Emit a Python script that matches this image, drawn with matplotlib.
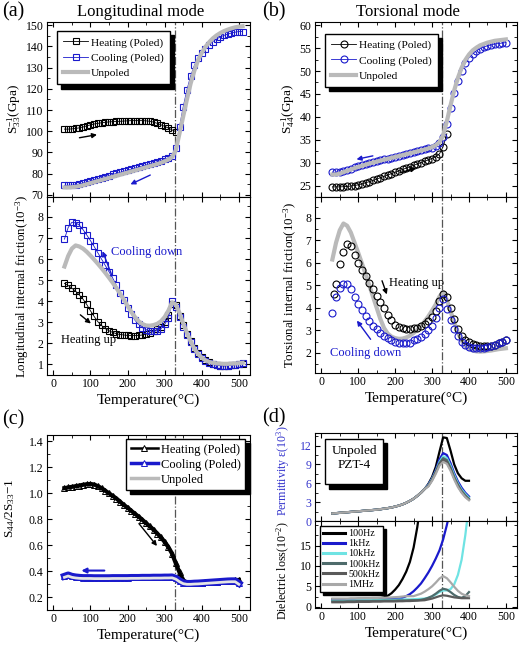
import numpy as np
import matplotlib
matplotlib.use('Agg')
import matplotlib.pyplot as plt
from matplotlib.ticker import MultipleLocator
from matplotlib.lines import Line2D

plt.rcParams['font.family'] = ['Liberation Serif', 'DejaVu Serif']
plt.rcParams['mathtext.fontset'] = 'custom'
plt.rcParams['mathtext.rm'] = 'Liberation Serif'
plt.rcParams['mathtext.it'] = 'Liberation Serif:italic'
plt.rcParams['axes.linewidth'] = 0.8

BLUE = '#1a1acc'
GRAY = '#bababa'
TC = 328  # Curie temperature line

# ---------------- data (a) Longitudinal mode ----------------
t_a_heat = np.arange(30, 340, 10)
s33_heat = [101.0, 101.0, 101.1, 101.3, 101.6, 102.0, 102.5, 103.0, 103.4, 103.7,
            104.0, 104.2, 104.4, 104.5, 104.6, 104.7, 104.8, 104.9, 105.0, 105.0,
            105.0, 105.0, 104.9, 104.7, 104.3, 103.7, 103.0, 102.3, 101.5, 100.6, 99.8]
t_a = np.arange(30, 520, 10)
s33_cool = [74.5, 74.5, 74.6, 74.8, 75.1, 75.6, 76.1, 76.6, 77.1, 77.6,
            78.1, 78.6, 79.1, 79.6, 80.1, 80.6, 81.1, 81.6, 82.1, 82.6,
            83.1, 83.6, 84.1, 84.6, 85.1, 85.6, 86.2, 86.8, 87.5, 88.5,
            92.0, 102.0, 111.5, 119.5, 126.0, 131.0, 134.5, 137.0, 139.0, 140.8,
            142.3, 143.5, 144.5, 145.2, 145.8, 146.3, 146.7, 147.0, 147.0]
s33_unp = [73.5, 73.5, 73.6, 73.8, 74.1, 74.5, 75.0, 75.5, 76.0, 76.5,
           77.0, 77.5, 78.0, 78.5, 79.0, 79.5, 80.0, 80.5, 81.0, 81.5,
           82.0, 82.5, 83.0, 83.5, 84.0, 84.5, 85.1, 85.8, 86.6, 87.8,
           91.0, 99.0, 107.0, 115.0, 122.5, 128.5, 133.5, 137.0, 139.8, 142.0,
           143.8, 145.2, 146.3, 147.2, 147.9, 148.5, 149.0, 149.3, 149.5]
qL_heat = [4.85, 4.75, 4.62, 4.48, 4.30, 4.10, 3.85, 3.55, 3.28, 3.03,
           2.85, 2.70, 2.60, 2.52, 2.46, 2.42, 2.40, 2.38, 2.37, 2.37,
           2.38, 2.40, 2.44, 2.50, 2.57, 2.66, 2.80, 3.00, 3.35, 3.85,
           3.80, 3.30, 2.85, 2.45, 2.10, 1.80, 1.55, 1.35, 1.20, 1.10,
           1.02, 0.97, 0.95, 0.94, 0.95, 0.97, 0.99, 1.01, 1.02]
qL_cool = [6.95, 7.50, 7.75, 7.72, 7.62, 7.40, 7.15, 6.88, 6.60, 6.30,
           6.00, 5.70, 5.40, 5.10, 4.75, 4.40, 4.05, 3.70, 3.40, 3.10,
           2.90, 2.75, 2.65, 2.60, 2.58, 2.60, 2.70, 2.90, 3.20, 4.00,
           3.75, 3.25, 2.80, 2.40, 2.05, 1.75, 1.50, 1.30, 1.17, 1.07,
           1.00, 0.96, 0.94, 0.93, 0.94, 0.96, 0.99, 1.03, 1.05]
qL_unp = [5.65, 6.15, 6.50, 6.65, 6.60, 6.50, 6.35, 6.17, 5.98, 5.78,
          5.57, 5.35, 5.12, 4.88, 4.63, 4.36, 4.08, 3.78, 3.50, 3.25,
          3.05, 2.92, 2.85, 2.84, 2.87, 2.93, 3.05, 3.25, 3.55, 3.95,
          3.85, 3.45, 2.95, 2.50, 2.10, 1.75, 1.50, 1.32, 1.20, 1.12,
          1.08, 1.05, 1.04, 1.03, 1.03, 1.04, 1.05, 1.06, 1.08]

# ---------------- data (b) Torsional mode ----------------
t_b_heat = np.arange(30, 350, 10)
s44_heat = [24.7, 24.7, 24.7, 24.75, 24.8, 24.9, 25.0, 25.15, 25.35, 25.6,
            25.85, 26.1, 26.4, 26.7, 27.0, 27.3, 27.6, 27.9, 28.2, 28.5,
            28.8, 29.1, 29.4, 29.7, 30.0, 30.3, 30.6, 30.9, 31.3, 31.9,
            33.5, 36.3]
t_b = np.arange(30, 510, 10)
s44_cool = [27.9, 27.9, 28.0, 28.2, 28.4, 28.7, 28.95, 29.2, 29.45, 29.7,
            29.9, 30.1, 30.3, 30.5, 30.7, 30.9, 31.1, 31.3, 31.5, 31.7,
            31.9, 32.1, 32.3, 32.5, 32.7, 32.9, 33.1, 33.3, 33.6, 34.2,
            35.5, 38.5, 42.0, 45.2, 47.8, 50.0, 51.7, 52.9, 53.8, 54.4,
            54.9, 55.2, 55.5, 55.7, 55.9, 56.0, 56.1, 56.2]
s44_unp = [27.4, 27.4, 27.6, 27.9, 28.2, 28.5, 28.8, 29.05, 29.3, 29.55,
           29.8, 30.0, 30.2, 30.45, 30.65, 30.85, 31.05, 31.25, 31.45, 31.65,
           31.85, 32.05, 32.25, 32.45, 32.65, 32.85, 33.1, 33.4, 33.8, 34.5,
           36.0, 39.0, 42.5, 45.8, 48.5, 50.7, 52.4, 53.6, 54.5, 55.1,
           55.6, 55.9, 56.2, 56.4, 56.6, 56.7, 56.8, 56.9]
t_b_q = [35] + list(range(40, 510, 10))
qT_heat = [4.60, 5.05, 5.95, 6.50, 6.85, 6.75, 6.35, 6.00, 5.68, 5.40,
           5.12, 4.83, 4.54, 4.25, 3.97, 3.70, 3.45, 3.25, 3.15, 3.10,
           3.07, 3.07, 3.08, 3.12, 3.18, 3.28, 3.42, 3.60, 3.88, 4.30,
           4.60, 4.50, 4.00, 3.50, 3.05, 2.75, 2.58, 2.47, 2.40, 2.35,
           2.32, 2.30, 2.30, 2.32, 2.36, 2.42, 2.48, 2.55]
qT_cool = [3.75, 4.50, 4.90, 5.05, 5.05, 4.85, 4.50, 4.15, 3.90, 3.65,
           3.40, 3.20, 3.05, 2.90, 2.75, 2.65, 2.57, 2.50, 2.45, 2.42,
           2.42, 2.45, 2.55, 2.62, 2.72, 2.85, 3.00, 3.20, 3.55, 4.00,
           4.40, 3.95, 3.45, 3.05, 2.75, 2.50, 2.35, 2.27, 2.23, 2.20,
           2.20, 2.22, 2.25, 2.30, 2.36, 2.42, 2.50, 2.57]
qT_unp = [6.15, 6.90, 7.45, 7.75, 7.65, 7.35, 6.90, 6.45, 5.98, 5.50,
          5.00, 4.50, 4.00, 3.50, 3.10, 2.85, 2.72, 2.65, 2.62, 2.63,
          2.68, 2.76, 2.88, 3.02, 3.20, 3.40, 3.62, 3.88, 4.15, 4.50,
          4.70, 4.35, 3.85, 3.35, 2.90, 2.55, 2.30, 2.18, 2.10, 2.06,
          2.05, 2.06, 2.08, 2.10, 2.13, 2.16, 2.18, 2.20]

# ---------------- data (c) anisotropy ----------------
t_c = np.arange(30, 510, 10)
r_heat = [1.040, 1.045, 1.050, 1.055, 1.060, 1.066, 1.070, 1.072, 1.068, 1.055,
          1.040, 1.020, 1.000, 0.980, 0.960, 0.935, 0.910, 0.890, 0.865, 0.842,
          0.820, 0.795, 0.770, 0.745, 0.720, 0.690, 0.660, 0.625, 0.585, 0.535,
          0.460, 0.390, 0.330, 0.310, 0.305, 0.305, 0.310, 0.310, 0.312, 0.315,
          0.317, 0.318, 0.320, 0.322, 0.325, 0.327, 0.330, 0.332]
r_cool = [0.360, 0.370, 0.360, 0.355, 0.352, 0.350, 0.350, 0.350, 0.349, 0.349,
          0.349, 0.349, 0.349, 0.350, 0.350, 0.350, 0.350, 0.350, 0.351, 0.351,
          0.351, 0.352, 0.352, 0.352, 0.353, 0.353, 0.353, 0.354, 0.354, 0.355,
          0.345, 0.325, 0.310, 0.305, 0.305, 0.307, 0.308, 0.310, 0.312, 0.314,
          0.316, 0.318, 0.320, 0.322, 0.324, 0.325, 0.325, 0.305]
r_unp = [0.352, 0.362, 0.352, 0.347, 0.344, 0.343, 0.343, 0.343, 0.342, 0.342,
         0.342, 0.342, 0.342, 0.343, 0.343, 0.343, 0.343, 0.343, 0.344, 0.344,
         0.344, 0.345, 0.345, 0.345, 0.346, 0.346, 0.346, 0.347, 0.347, 0.348,
         0.338, 0.318, 0.303, 0.298, 0.298, 0.300, 0.301, 0.303, 0.305, 0.307,
         0.309, 0.311, 0.313, 0.315, 0.317, 0.318, 0.318, 0.298]

# ---------------- data (d) dielectric ----------------
t_d = np.arange(30, 410, 10)
freqs = ['100Hz', '1kHz', '10kHz', '100kHz', '500kHz', '1MHz']
f_colors = ['#000000', '#1a1acc', '#6fe3e3', '#4e6b6b', '#5a5a5a', '#a8a8a8']
eps_low = [1.20, 1.25, 1.30, 1.35, 1.40, 1.45, 1.50, 1.55, 1.60, 1.65,
           1.70, 1.75, 1.80, 1.88, 1.96, 2.05, 2.15, 2.30, 2.45, 2.65,
           2.90, 3.20, 3.55, 4.00, 4.50, 5.10]
eps_100Hz = eps_low + [5.9, 7.0, 8.6, 11.0, 13.3, 13.2, 11.2, 9.0, 7.6, 6.8, 6.4, 6.4]
eps_1kHz = eps_low + [5.8, 6.8, 8.1, 9.8, 10.8, 10.5, 9.2, 7.6, 6.3, 5.3, 4.5, 3.9]
eps_10kHz = eps_low + [5.7, 6.7, 7.9, 9.4, 10.3, 10.0, 8.8, 7.3, 6.0, 5.0, 4.3, 3.7]
eps_100kHz = eps_low + [5.6, 6.6, 7.8, 9.2, 10.0, 9.7, 8.5, 7.0, 5.8, 4.8, 4.1, 3.5]
eps_500kHz = eps_low + [5.6, 6.5, 7.7, 9.0, 9.7, 9.4, 8.3, 6.8, 5.6, 4.6, 3.9, 3.4]
eps_1MHz = eps_low + [5.5, 6.4, 7.5, 8.8, 9.4, 9.1, 8.0, 6.6, 5.4, 4.5, 3.8, 3.3]
eps_all = [eps_100Hz, eps_1kHz, eps_10kHz, eps_100kHz, eps_500kHz, eps_1MHz]

loss_100Hz = [1.8, 1.8, 1.8, 1.85, 1.85, 1.9, 1.9, 1.95, 1.95, 2.0,
              2.0, 2.05, 2.05, 2.1, 2.3, 2.7, 3.3, 4.2, 5.3, 6.8,
              8.6, 11.0, 14.5, 19.5, 26.0, 30.0, 30.0, 30.0, 30.0, 30.0,
              30.0, 30.0, 30.0, 30.0, 30.0, 30.0, 30.0, 30.0]
loss_1kHz = [1.6, 1.6, 1.6, 1.65, 1.65, 1.7, 1.7, 1.7, 1.75, 1.75,
             1.75, 1.8, 1.8, 1.85, 1.85, 1.9, 1.9, 1.9, 2.0, 2.2,
             2.6, 3.1, 3.8, 4.7, 5.7, 7.0, 8.4, 10.0, 11.8, 13.8,
             16.5, 20.0, 24.0, 30.0, 30.0, 30.0, 30.0, 30.0]
loss_10kHz = [1.5, 1.5, 1.5, 1.5, 1.55, 1.55, 1.55, 1.6, 1.6, 1.6,
              1.6, 1.65, 1.65, 1.65, 1.7, 1.7, 1.7, 1.7, 1.75, 1.75,
              1.8, 1.8, 1.85, 1.9, 1.95, 2.0, 2.2, 2.5, 3.0, 3.6,
              4.0, 4.0, 4.3, 5.5, 7.8, 11.5, 17.5, 25.0]
loss_100kHz = [1.3, 1.3, 1.3, 1.3, 1.35, 1.35, 1.35, 1.4, 1.4, 1.4,
               1.4, 1.45, 1.45, 1.45, 1.5, 1.5, 1.5, 1.5, 1.55, 1.55,
               1.55, 1.6, 1.6, 1.6, 1.7, 1.9, 2.2, 2.6, 3.2, 3.9,
               4.4, 4.2, 3.6, 2.9, 2.4, 2.2, 2.6, 3.6]
loss_500kHz = [1.1, 1.1, 1.1, 1.1, 1.15, 1.15, 1.15, 1.2, 1.2, 1.2,
               1.2, 1.25, 1.25, 1.25, 1.3, 1.3, 1.3, 1.3, 1.35, 1.35,
               1.4, 1.4, 1.45, 1.5, 1.55, 1.6, 1.8, 2.0, 2.3, 2.6,
               2.8, 2.7, 2.5, 2.3, 2.2, 2.1, 2.1, 2.1]
loss_1MHz = [2.0, 2.0, 2.0, 2.0, 2.0, 2.05, 2.05, 2.05, 2.1, 2.1,
             2.1, 2.15, 2.15, 2.2, 2.2, 2.25, 2.3, 2.35, 2.4, 2.5,
             2.6, 2.6, 2.6, 2.9, 3.2, 3.7, 4.3, 5.0, 5.9, 6.9,
             7.5, 7.0, 6.0, 4.9, 3.9, 3.2, 2.8, 2.6]
loss_all = [loss_100Hz, loss_1kHz, loss_10kHz, loss_100kHz, loss_500kHz, loss_1MHz]

SHADOW = {'color': 'black', 'alpha': 1, 'ox': 3, 'oy': -3}


def style(ax, ymaj, ymin, xlabels=True):
    ax.set_xlim(-17, 530)
    ax.xaxis.set_major_locator(MultipleLocator(100))
    ax.xaxis.set_minor_locator(MultipleLocator(50))
    ax.yaxis.set_major_locator(MultipleLocator(ymaj))
    ax.yaxis.set_minor_locator(MultipleLocator(ymin))
    ax.tick_params(which='both', direction='in', top=True, right=True, labelsize=8.5, pad=2.5)
    ax.tick_params(which='major', length=3.5)
    ax.tick_params(which='minor', length=2)
    if not xlabels:
        ax.tick_params(axis='x', labelbottom=False)
    ax.axvline(TC, color='#555555', lw=0.9, ls='-.', zorder=0)


def legend3(ax, handles, loc, fs=8.2, ls=0.45, bp=0.55, **kw):
    return ax.legend(handles=handles, loc=loc, fontsize=fs, frameon=True, fancybox=False,
                     edgecolor='black', shadow=SHADOW, framealpha=1,
                     handlelength=2.2, handletextpad=0.25, borderpad=bp, labelspacing=ls, **kw)


def arrow(ax, xy, xytext, color, lw=1.0):
    ax.annotate('', xy=xy, xytext=xytext, zorder=6,
                arrowprops=dict(arrowstyle='-|>', color=color, lw=lw, mutation_scale=7))


fig = plt.figure(figsize=(5.2, 6.45), dpi=100)

# ---------------- (a) ----------------
ax1 = fig.add_axes([0.0904, 0.6946, 0.3904, 0.2713])
ax2 = fig.add_axes([0.0904, 0.4186, 0.3904, 0.2760])
mk = dict(marker='s', ms=4.2, mfc='none', mew=0.8, lw=0.6)
h1, = ax1.plot(t_a_heat, s33_heat, color='black', label='Heating (Poled)', **mk)
h2, = ax1.plot(t_a, s33_cool, color=BLUE, label='Cooling (Poled)', **mk)
h3, = ax1.plot(t_a, s33_unp, color=GRAY, lw=3, label='Unpoled', zorder=3)
style(ax1, 10, 5, xlabels=False)
ax1.set_ylim(69, 151.5)
ax1.set_ylabel('S$_{33}^{-1}$(Gpa)', fontsize=9.5, labelpad=2)
legend3(ax1, [h1, h2, h3], 'upper left', bbox_to_anchor=(0.02, 0.98))
arrow(ax1, (125, 98.6), (63, 96.7), 'black')
arrow(ax1, (201, 74.4), (268, 79.9), BLUE)

ax2.plot(t_a, qL_heat, color='black', **mk)
ax2.plot(t_a, qL_cool, color=BLUE, **mk)
ax2.plot(t_a, qL_unp, color=GRAY, lw=3, zorder=3)
style(ax2, 1, 0.5)
ax2.set_ylim(0.5, 8.95)
ax2.set_ylabel('Longitudinal internal friction(10$^{-3}$)', fontsize=9.3, labelpad=5)
ax2.set_xlabel('Temperature(°C)', fontsize=11, labelpad=2)
ax2.text(156, 6.35, 'Cooling down', color=BLUE, fontsize=9, va='center')
arrow(ax2, (130, 6.5), (161, 5.08), BLUE)
ax2.text(22, 2.14, 'Heating up', color='black', fontsize=9, va='center')
arrow(ax2, (107, 2.86), (67, 3.44), 'black')

# ---------------- (b) ----------------
bx1 = fig.add_axes([0.6058, 0.6946, 0.3884, 0.2713])
bx2 = fig.add_axes([0.6058, 0.4217, 0.3884, 0.2729])
mc = dict(marker='o', ms=5, mfc='none', mew=0.8, lw=0.6)
g1, = bx1.plot(t_b_heat, s44_heat, color='black', label='Heating (Poled)', **mc)
g2, = bx1.plot(t_b, s44_cool, color=BLUE, label='Cooling (Poled)', **mc)
g3, = bx1.plot(t_b, s44_unp, color=GRAY, lw=3, label='Unpoled', zorder=3)
style(bx1, 5, 2.5, xlabels=False)
bx1.set_ylim(22.5, 60.7)
bx1.set_ylabel('S$_{44}^{-1}$(Gpa)', fontsize=9.5, labelpad=2)
legend3(bx1, [g1, g2, g3], 'upper left', bbox_to_anchor=(0.02, 0.965))
arrow(bx1, (88, 30.6), (147, 31.6), BLUE)
arrow(bx1, (264, 29.0), (206, 27.6), 'black')

bx2.plot(t_b_q, qT_heat, color='black', ls='none', marker='o', ms=5, mfc='none', mew=0.8)
bx2.plot(t_b, qT_cool, color=BLUE, ls='none', marker='o', ms=5, mfc='none', mew=0.8)
bx2.plot(t_b, qT_unp, color=GRAY, lw=3, zorder=1)
style(bx2, 1, 0.5)
bx2.set_ylim(1.1, 8.93)
bx2.set_ylabel('Torsional internal friction(10$^{-3}$)', fontsize=9.3, labelpad=5)
bx2.set_xlabel('Temperature(°C)', fontsize=11, labelpad=2)
bx2.text(183, 5.1, 'Heating up', color='black', fontsize=9, va='center')
arrow(bx2, (180, 4.48), (162, 5.32), 'black')
bx2.text(24, 2.0, 'Cooling down', color=BLUE, fontsize=9, va='center')
arrow(bx2, (92, 3.53), (138, 2.5), BLUE)

# ---------------- (c) ----------------
cx = fig.add_axes([0.0904, 0.0543, 0.3904, 0.2713])
mt = dict(marker='^', ms=5, mfc='none', mew=0.7)
cx.plot(t_c, r_heat, color='black', lw=3, **mt)
cx.plot(t_c, r_cool, color=BLUE, lw=5, **mt)
cx.plot(t_c, r_unp, color='#e4e4e4', lw=2.0, zorder=3)
style(cx, 0.2, 0.1)
cx.set_ylim(0.1, 1.45)
cx.set_ylabel('S$_{44}$/2S$_{33}$−1', fontsize=9.5)
cx.yaxis.set_label_coords(-0.15, 0.58)
cx.set_xlabel('Temperature(°C)', fontsize=11, labelpad=2)
k1 = Line2D([], [], color='black', lw=1.8, marker='^', ms=5, mfc='white', mew=0.7, label='Heating (Poled)')
k2 = Line2D([], [], color=BLUE, lw=2.5, marker='^', ms=5, mfc='white', mew=0.7, label='Cooling (Poled)')
k3 = Line2D([], [], color=GRAY, lw=2.5, label='Unpoled')
legend3(cx, [k1, k2, k3], 'upper right', fs=9.0, ls=0.25, bp=0.35,
        bbox_to_anchor=(0.99, 0.99), borderaxespad=0.2)
arrow(cx, (284, 0.577), (226, 0.783), 'black')
arrow(cx, (68, 0.404), (145, 0.404), BLUE, lw=1.5)

# ---------------- (d) ----------------
dx1 = fig.add_axes([0.6058, 0.1922, 0.3884, 0.1365])
dx2 = fig.add_axes([0.6058, 0.0574, 0.3884, 0.1348])
for vals, c in zip(eps_all, f_colors):
    dx1.plot(t_d, vals, color=c, lw=1.6)
style(dx1, 3, 1.5, xlabels=False)
dx1.set_ylim(0, 14)
dx1.set_ylabel('Permittivity ε(10$^{3}$)', fontsize=8.6, color='#3333cc')
dx1.yaxis.set_label_coords(-0.115, 0.57)
dx1.tick_params(axis='y', labelcolor='#3333cc')
box = dx1.legend(handles=[], title='Unpoled\nPZT-4', loc='upper left', bbox_to_anchor=(0.05, 0.93),
                 borderaxespad=0, title_fontsize=9.5, frameon=True, fancybox=False, edgecolor='black',
                 shadow=SHADOW, framealpha=1, borderpad=0.45)
box.get_title().set_multialignment('center')

lh = []
for vals, c, f in zip(loss_all, f_colors, freqs):
    ln, = dx2.plot(t_d, vals, color=c, lw=1.6, label=f)
    lh.append(ln)
style(dx2, 5, 2.5)
dx2.set_ylim(-0.3, 21)
dx2.set_yticks([0, 5, 10, 15])
dx2.set_ylabel('Dielectric loss(10$^{-2}$)', fontsize=8.6)
dx2.yaxis.set_label_coords(-0.115, 0.43)
dx2.set_xlabel('Temperature(°C)', fontsize=11, labelpad=2)
dx2.legend(handles=lh, loc='upper left', fontsize=7.2, frameon=True, fancybox=False,
           edgecolor='black', shadow={'color': 'black', 'alpha': 1, 'ox': 2, 'oy': -2},
           framealpha=1, handlelength=2.2, handletextpad=0.3, borderpad=0.3, labelspacing=0.12,
           bbox_to_anchor=(0.0, 1.0))
for ln in dx2.get_legend().get_lines():
    ln.set_linewidth(2.2)

# panel labels and titles
fig.text(0.004, 0.982, '(a)', fontsize=14.5, va='center')
fig.text(0.27, 0.982, 'Longitudinal mode', fontsize=12, va='center', ha='center')
fig.text(0.505, 0.982, '(b)', fontsize=14.5, va='center')
fig.text(0.785, 0.982, 'Torsional mode', fontsize=12, va='center', ha='center')
fig.text(0.004, 0.349, '(c)', fontsize=14.5, va='center')
fig.text(0.505, 0.352, '(d)', fontsize=14.5, va='center')

fig.savefig('out.png', dpi=100)
